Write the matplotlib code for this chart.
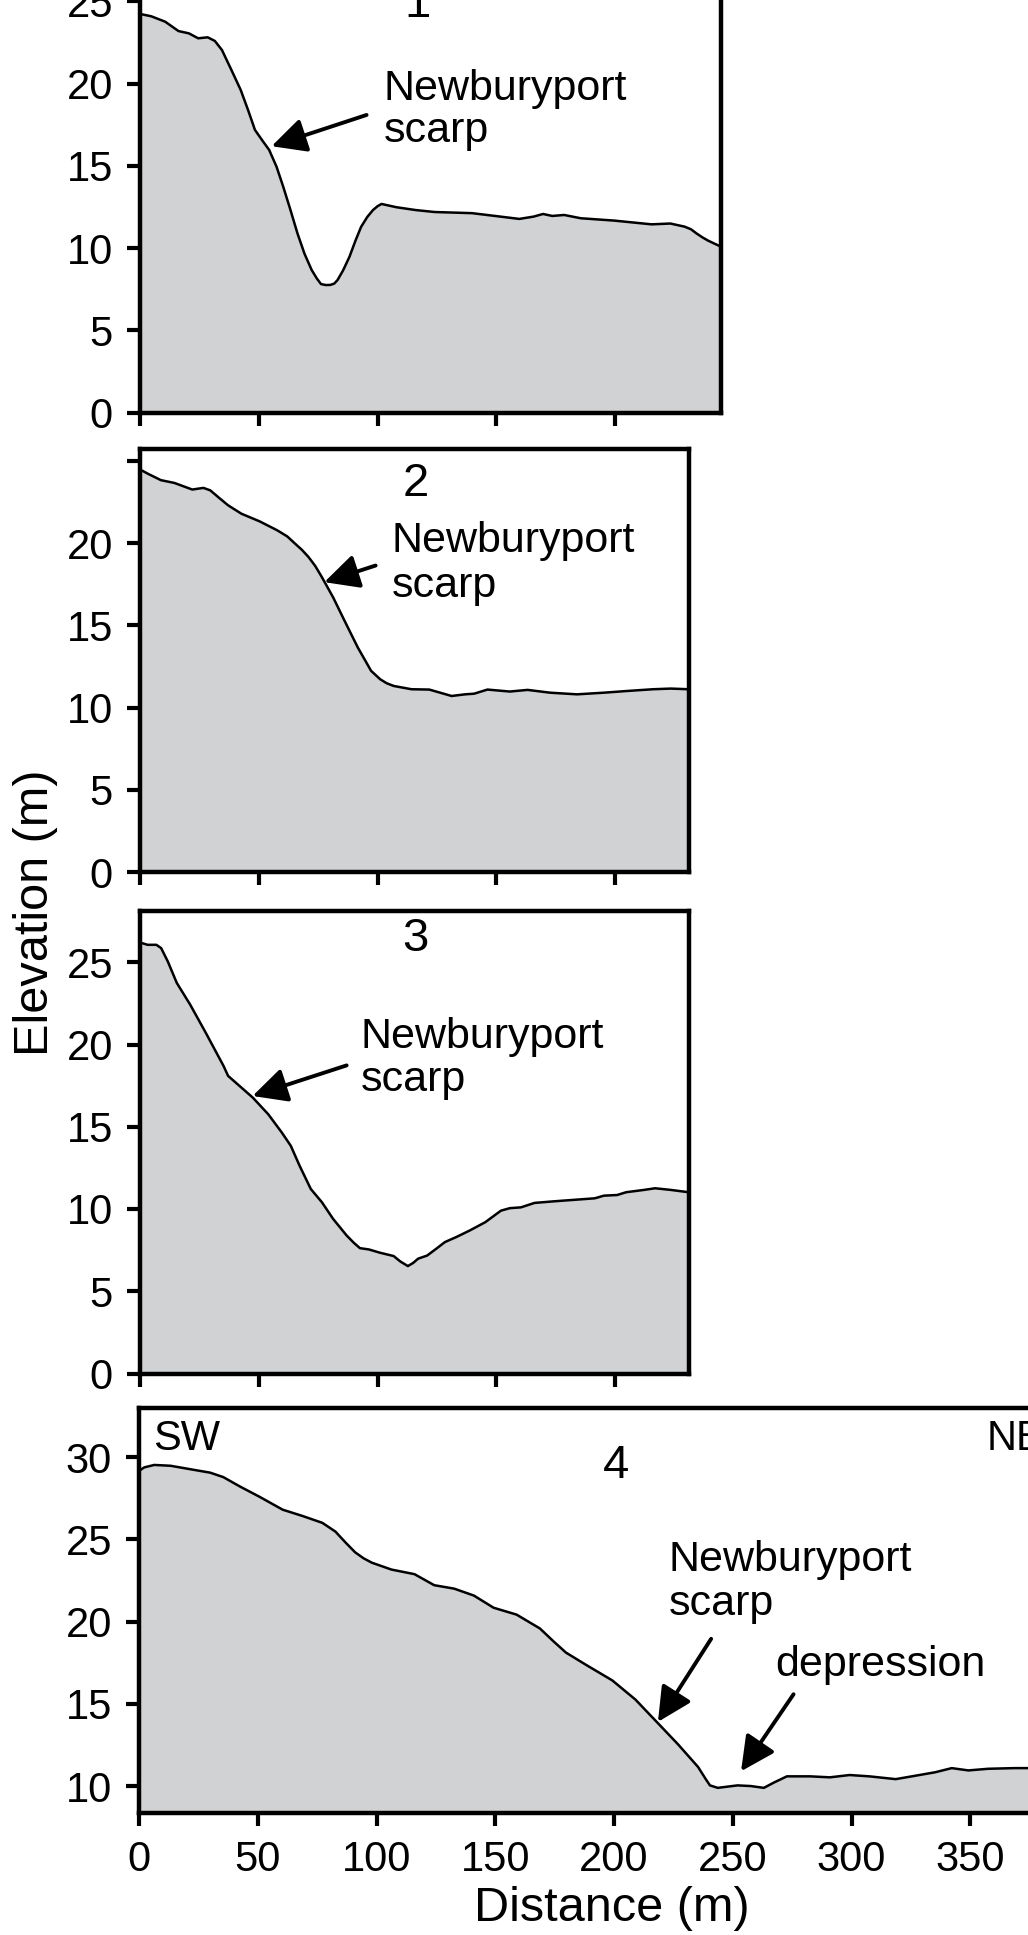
import matplotlib
matplotlib.use("Agg")
import matplotlib.pyplot as plt

plt.rcParams['font.family'] = ['Liberation Sans', 'DejaVu Sans']

# ---- profile data (distance m, elevation m) ----
p1_dist = [0, 4.7, 10.6, 16.2, 20.6, 24.5, 28.5, 31.5, 34.5, 38.5, 42.4, 45.5, 48.4, 51.5,
           54.4, 57.5, 60.3, 63.3, 66.3, 69.3, 72.3, 74.5, 76.2, 78.2, 80.2, 81.8, 83.2,
           85.5, 88.2, 90.7, 93.1, 95.7, 98.1, 100, 101.7, 104.5, 108, 116, 124,
           139.8, 151.8, 159.7, 165.7, 169.7, 173.6, 178.6, 185.6, 199.5, 215.4, 223.3,
           229.3, 232, 234.3, 236.8, 239.2, 244.5]
p1_elev = [24.24, 24.1, 23.77, 23.2, 23.06, 22.76, 22.82, 22.6, 22.05, 20.83, 19.62, 18.4,
           17.19, 16.55, 15.97, 14.95, 13.74, 12.35, 10.9, 9.65, 8.67, 8.15, 7.82, 7.76,
           7.77, 7.85, 8.07, 8.65, 9.48, 10.45, 11.3, 11.9, 12.32, 12.55, 12.69, 12.6, 12.49,
           12.32, 12.2, 12.13, 11.92, 11.78, 11.92, 12.08, 11.96, 12.02, 11.82, 11.68,
           11.45, 11.5, 11.31, 11.15, 10.9, 10.66, 10.46, 10.1]

p2_dist = [0, 3.2, 8.8, 14.5, 22, 26.7, 29.6, 33.5, 37.1, 42.7, 50.3, 57.8, 62, 65.3, 68.2,
           71, 73.8, 76.6, 81.3, 86.1, 91.7, 97.3, 101.1, 103.8, 106.8, 114.3, 121.8, 131.2,
           136.9, 140.7, 146.3, 155.7, 163.2, 172.7, 184, 195.3, 204.7, 216, 223.5, 231]
p2_elev = [24.47, 24.22, 23.82, 23.65, 23.25, 23.35, 23.2, 22.72, 22.29, 21.78, 21.32, 20.77,
           20.4, 19.96, 19.58, 19.14, 18.6, 17.92, 16.7, 15.28, 13.65, 12.23, 11.72, 11.48,
           11.31, 11.11, 11.09, 10.7, 10.8, 10.84, 11.09, 10.97, 11.07, 10.9, 10.8, 10.9,
           11.0, 11.11, 11.15, 11.11]

p3_dist = [0, 3.2, 6.9, 8.9, 11.7, 15.5, 21.1, 27.7, 35.2, 37.1, 42.7, 47.5, 54, 59.7,
           63.5, 67.2, 71.9, 76.6, 81.3, 87, 90, 92.6, 96.4, 101.1, 106.8, 109.6, 112.8,
           115, 117.1, 120.9, 124.7, 128.4, 133.1, 138.8, 145.4, 152, 155.7, 160.4, 166.1,
           174.6, 184, 191.5, 195.3, 200.9, 204.7, 212.2, 216.9, 223.5, 231]
p3_elev = [26.2, 26.06, 26.06, 25.86, 25.05, 23.74, 22.43, 20.71, 18.69, 18.09, 17.38,
           16.77, 15.76, 14.65, 13.84, 12.63, 11.22, 10.41, 9.4, 8.39, 7.95, 7.62, 7.54,
           7.34, 7.14, 6.81, 6.53, 6.72, 6.98, 7.17, 7.58, 7.99, 8.29, 8.69, 9.2, 9.9,
           10.05, 10.1, 10.37, 10.47, 10.57, 10.65, 10.81, 10.85, 11.02, 11.16, 11.26,
           11.16, 11.02]

p4_dist = [0, 2.2, 6.4, 13.3, 21.6, 30, 35.5, 42.5, 50.8, 60.5, 68.8, 77.2, 82.7, 87, 91,
           94.5, 98, 106.3, 116, 124.3, 132.7, 141, 149.3, 159, 168.8, 174.5, 179.8, 188.2,
           199.3, 209, 218.7, 227, 235.4, 238.5, 240.4, 243.7, 252, 257.6, 263.1, 267.3,
           272.8, 282.5, 290.9, 299.2, 307.5, 318.6, 327, 335.3, 342.2, 349.2, 357.5,
           368.6, 376.4, 386]
p4_elev = [29.16, 29.37, 29.52, 29.47, 29.26, 29.05, 28.78, 28.21, 27.58, 26.8, 26.42,
           26.0, 25.47, 24.8, 24.21, 23.85, 23.58, 23.16, 22.88, 22.21, 22.0, 21.58, 20.84,
           20.42, 19.58, 18.8, 18.11, 17.37, 16.42, 15.26, 13.79, 12.53, 11.16, 10.45,
           10.04, 9.89, 10.04, 10.0, 9.89, 10.21, 10.59, 10.59, 10.53, 10.67, 10.59, 10.42,
           10.63, 10.84, 11.09, 10.95, 11.05, 11.09, 11.09, 11.1]

profiles = [(p1_dist, p1_elev), (p2_dist, p2_elev), (p3_dist, p3_elev), (p4_dist, p4_elev)]
panel_ids = ['1', '2', '3', '4']

# layout in pixels of the 1028x1935 canvas
W, H = 1028, 1935
PX_M = 2.375    # px per metre of distance
PX_V = 16.45    # px per metre of elevation
layout = [  # left px, bottom px, xlim, ylim
    (140, 412.7, (0, 244.5), (0, 27.0)),
    (140, 872.0, (0, 231.0), (0, 25.7)),
    (140, 1373.5, (0, 231.0), (0, 28.1)),
    (139, 1812.7, (0, 386.0), (8.38, 33.0)),
]
yticks = [[0, 5, 10, 15, 20, 25], [0, 5, 10, 15, 20, 25],
          [0, 5, 10, 15, 20, 25], [10, 15, 20, 25, 30]]
ytick_labels = [['0', '5', '10', '15', '20', '25'], ['0', '5', '10', '15', '20', ''],
                ['0', '5', '10', '15', '20', '25'], ['10', '15', '20', '25', '30']]
xticks = [0, 50, 100, 150, 200, 250, 300, 350, 400]

# panel number positions (distance, elevation)
id_pos = [(117, 24.05), (116.2, 22.84), (115.8, 25.66), (200.7, 28.74)]
# "Newburyport" / "scarp" text, arrow tail, arrow tip
scarp_text = [((102.5, 19.0), (102.5, 16.47)),
              ((106.0, 19.45), (106.0, 16.74)),
              ((93.0, 19.8), (93.0, 17.17)),
              ((223.0, 23.05), (223.0, 20.42))]
scarp_arrow = [((95.4, 18.1), (55.4, 16.2)),
               ((99.2, 18.63), (77.6, 17.62)),
               ((87.0, 18.73), (47.4, 16.87)),
               ((240.9, 18.95), (218.5, 13.9))]
dep_text = (268.0, 16.7)
dep_arrow = ((275.6, 15.58), (253.5, 10.9))

FILL = '#d1d2d4'
SPINE_LW = 3.2
TICK_FS = 30
ANN_FS = 31
ARROW = dict(arrowstyle='-|>,head_length=0.5,head_width=0.25', mutation_scale=42,
             lw=2.8, color='black', shrinkA=0, shrinkB=0)

fig = plt.figure(figsize=(W / 100, H / 100), dpi=100)

axes = []
for i, (left, bottom, xl, yl) in enumerate(layout):
    w = (xl[1] - xl[0]) * PX_M
    h = (yl[1] - yl[0]) * PX_V
    ax = fig.add_axes([left / W, (H - bottom) / H, w / W, h / H])
    d, e = profiles[i]
    ax.fill_between(d, e, yl[0], color=FILL, lw=0)
    ax.plot(d, e, color='black', lw=1.8, solid_joinstyle='round')
    ax.set_xlim(*xl)
    ax.set_ylim(*yl)
    ax.set_yticks(yticks[i])
    ax.set_yticklabels(ytick_labels[i])
    ax.set_xticks([t for t in xticks if t <= xl[1]])
    if i < 3:
        ax.set_xticklabels([])
    for s in ax.spines.values():
        s.set_linewidth(SPINE_LW)
    ax.tick_params(direction='out', length=9.5, width=3.0, labelsize=TICK_FS, pad=10)
    ax.text(id_pos[i][0], id_pos[i][1], panel_ids[i], fontsize=34,
            ha='center', va='baseline')
    (t1, t2) = scarp_text[i]
    ax.text(t1[0], t1[1], 'Newburyport', fontsize=ANN_FS, ha='left', va='baseline')
    ax.text(t2[0], t2[1], 'scarp', fontsize=ANN_FS, ha='left', va='baseline')
    tail, tip = scarp_arrow[i]
    ax.annotate('', xy=tip, xytext=tail, arrowprops=ARROW)
    axes.append(ax)

ax4 = axes[3]
ax4.text(dep_text[0], dep_text[1], 'depression', fontsize=ANN_FS, ha='left', va='baseline')
ax4.annotate('', xy=dep_arrow[1], xytext=dep_arrow[0], arrowprops=ARROW)
ax4.text(5.8, 30.43, 'SW', fontsize=TICK_FS, ha='left', va='baseline')
ax4.text(357, 30.43, 'NE', fontsize=TICK_FS, ha='left', va='baseline')

fig.text(36 / W, 1 - 913 / H, 'Elevation (m)', fontsize=35, rotation=90,
         ha='center', va='center')
fig.text(612 / W, 1 - 1921 / H, 'Distance (m)', fontsize=35, ha='center', va='baseline')

fig.savefig('out.png', dpi=100)
